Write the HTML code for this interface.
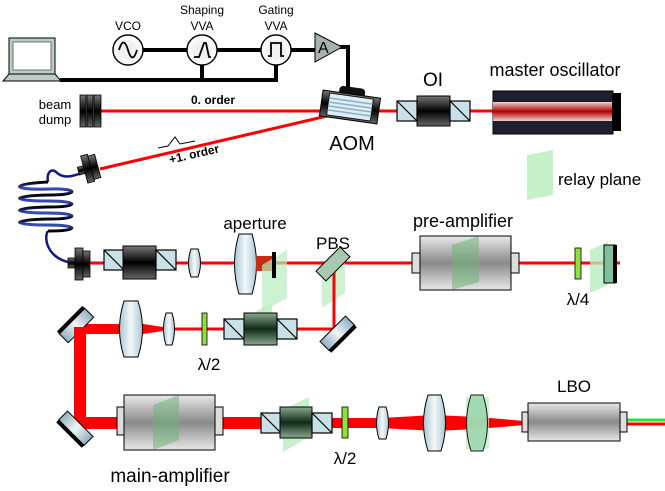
<!DOCTYPE html>
<html><head><meta charset="utf-8"><style>
html,body{margin:0;padding:0;background:#fff}
svg{display:block;font-family:"Liberation Sans",sans-serif}
</style></head><body>
<svg width="665" height="491" viewBox="0 0 665 491" xmlns="http://www.w3.org/2000/svg">
<defs>
<linearGradient id="blk" x1="0" y1="0" x2="0" y2="1"><stop offset="0" stop-color="#777"/><stop offset="0.5" stop-color="#000"/><stop offset="1" stop-color="#666"/></linearGradient>
<linearGradient id="grn" x1="0" y1="0" x2="0" y2="1"><stop offset="0" stop-color="#8aa890"/><stop offset="0.5" stop-color="#0e2a18"/><stop offset="1" stop-color="#8aa890"/></linearGradient>
<linearGradient id="gry" x1="0" y1="0" x2="0" y2="1"><stop offset="0" stop-color="#e8e8e8"/><stop offset="0.5" stop-color="#8a8a8a"/><stop offset="1" stop-color="#e8e8e8"/></linearGradient>
<linearGradient id="lens" x1="0" y1="0" x2="1" y2="0"><stop offset="0" stop-color="#a9c6d4"/><stop offset="0.5" stop-color="#f4f8fa"/><stop offset="1" stop-color="#a9c6d4"/></linearGradient>
<linearGradient id="mir" x1="0" y1="0" x2="1" y2="0"><stop offset="0" stop-color="#8fb0bf"/><stop offset="0.5" stop-color="#eef4f6"/><stop offset="1" stop-color="#8fb0bf"/></linearGradient>
<linearGradient id="red" x1="0" y1="0" x2="0" y2="1"><stop offset="0" stop-color="#f2d0d0"/><stop offset="0.5" stop-color="#b00000"/><stop offset="1" stop-color="#f2d0d0"/></linearGradient>
<linearGradient id="fib" x1="0" y1="0" x2="0" y2="1"><stop offset="0" stop-color="#000"/><stop offset="0.5" stop-color="#3a50c8"/><stop offset="1" stop-color="#000"/></linearGradient>
<g id="prism"><rect x="0" y="0" width="20" height="20" fill="#c9e0e8" stroke="#000" stroke-width="1.2"/><line x1="0" y1="0" x2="20" y2="20" stroke="#000" stroke-width="1.2"/></g>
</defs>

<!-- computer -->
<rect x="9" y="38" width="46" height="36" fill="#bccdc4" stroke="#000" stroke-width="1"/>
<rect x="13" y="42" width="38" height="28" fill="#fff" stroke="#555" stroke-width="0.8"/>
<path d="M9 74 L55 74 L61 81 L3 81 Z" fill="#bccdc4" stroke="#000" stroke-width="1"/>

<!-- electronics lines -->
<g stroke="#000" stroke-width="4" fill="none">
<line x1="143" y1="50" x2="318" y2="50"/>
<line x1="60" y1="80" x2="278" y2="80"/>
<line x1="202" y1="64" x2="202" y2="80"/>
<line x1="276" y1="64" x2="276" y2="80"/>
<polyline points="340,47 348,47 348,90"/>
</g>
<g stroke="#000" stroke-width="1.5" fill="#f0f0f0">
<circle cx="128" cy="50" r="15"/><circle cx="202" cy="50" r="15"/><circle cx="276" cy="50" r="15"/>
</g>
<g stroke="#fff" stroke-width="4.5" fill="none" opacity="0.6"><circle cx="128" cy="50" r="12"/><circle cx="202" cy="50" r="12"/><circle cx="276" cy="50" r="12"/></g>
<g stroke="#000" stroke-width="1.8" fill="none">
<path d="M119 50 C122 40,125 40,128 50 C131 60,134 60,137 50"/>
<polyline points="194,57 199,57 204,43 206,43 209,57 211,57"/>
<polyline points="268,56 271,56 271,43 281,43 281,56 284,56"/>
</g>
<path d="M315 33 L342 47 L315 62 Z" fill="#a8b0b0" stroke="#000" stroke-width="1"/>
<text x="318" y="53" font-size="16" fill="#000">A</text>
<g font-size="12" fill="#000" text-anchor="middle">
<text x="128" y="30">VCO</text>
<text x="202" y="14">Shaping</text><text x="202" y="30">VVA</text>
<text x="276" y="14">Gating</text><text x="276" y="30">VVA</text>
</g>

<!-- beams top -->
<line x1="100" y1="111" x2="495" y2="111" stroke="#f00" stroke-width="3"/>
<line x1="100" y1="169" x2="340" y2="113" stroke="#f00" stroke-width="3"/>
<polyline points="158,148 168,146 175,137 180,144 195,141" fill="none" stroke="#000" stroke-width="1"/>
<text x="213" y="104" font-size="12" font-weight="bold" text-anchor="middle">0. order</text>
<text x="195" y="158" font-size="12" font-weight="bold" text-anchor="middle" transform="rotate(-13 195 158)">+1. order</text>

<!-- beam dump -->
<g fill="url(#blk)" stroke="#000" stroke-width="0.8">
<rect x="80" y="95" width="6" height="32"/><rect x="87" y="95" width="6" height="32"/><rect x="94" y="95" width="7" height="32"/>
</g>
<text x="55" y="109" font-size="13" text-anchor="middle">beam</text>
<text x="55" y="124" font-size="13" text-anchor="middle">dump</text>

<!-- AOM -->
<g transform="rotate(8 350 107)">
<rect x="337" y="87" width="26" height="10" rx="4" fill="#111"/>
<rect x="321" y="94" width="58" height="26" fill="url(#blk)" stroke="#000"/>
<rect x="328" y="96" width="44" height="22" fill="#dfeef4" stroke="#000" stroke-width="0.8"/>
<g stroke="#8ab0c8" stroke-width="1.5"><line x1="328" y1="101" x2="372" y2="101"/><line x1="328" y1="105" x2="372" y2="105"/><line x1="328" y1="109" x2="372" y2="109"/><line x1="328" y1="113" x2="372" y2="113"/></g>
</g>
<text x="352" y="150" font-size="20" text-anchor="middle">AOM</text>

<!-- OI top -->
<use href="#prism" x="397" y="101"/>
<rect x="417" y="96" width="33" height="30" fill="url(#blk)" stroke="#000"/>
<g transform="translate(450 101)"><use href="#prism"/></g>
<text x="433" y="86" font-size="19" text-anchor="middle">OI</text>

<!-- master oscillator -->
<rect x="493" y="91" width="120" height="43" fill="#1e1f30" stroke="#000"/>
<rect x="493" y="102" width="120" height="19" fill="url(#red)"/>
<rect x="612" y="93" width="9" height="38" fill="#000"/>
<text x="555" y="76" font-size="18" text-anchor="middle">master oscillator</text>

<!-- relay plane legend -->
<path d="M527 155 L553 150 L553 195 L527 200 Z" fill="#c6f0c8"/>
<text x="558" y="185" font-size="17">relay plane</text>

<!-- fiber -->
<path d="M48 182 C46 172,52 168,56 172 C62 178,70 178,84 172" fill="none" stroke="#10188a" stroke-width="2.5"/>
<g fill="none" stroke="url(#fib)" stroke-width="3">
<path d="M48 182 C10 184,10 190,48 189 C80 188,80 195,48 195"/>
<path d="M48 195 C10 196,10 201,48 201 C80 201,80 207,48 207"/>
<path d="M48 207 C10 208,10 213,48 213 C80 213,80 219,48 219"/>
<path d="M48 219 C10 220,10 225,48 225 C80 225,80 231,48 231"/>
</g>
<path d="M48 231 C44 236,45 258,72 263" fill="none" stroke="#10188a" stroke-width="2.5"/>
<g transform="rotate(-15 90 168)" fill="url(#blk)" stroke="#000" stroke-width="0.8">
<rect x="78" y="164" width="6" height="8"/><rect x="84" y="154" width="7" height="28"/><rect x="91" y="156" width="7" height="24"/>
</g>

<!-- lower row 1 -->
<line x1="88" y1="263" x2="620" y2="263" stroke="#f00" stroke-width="3"/>
<g fill="url(#blk)" stroke="#000" stroke-width="0.8">
<rect x="68" y="258" width="7" height="10"/><rect x="75" y="248" width="8" height="32"/><rect x="83" y="251" width="7" height="26"/>
</g>
<use href="#prism" x="104" y="250"/>
<rect x="123" y="246" width="33" height="33" fill="url(#blk)" stroke="#000"/>
<use href="#prism" x="156" y="250"/>
<path d="M191 249 L198 249 Q203 263 198 277 L191 277 Q186 263 191 249 Z" fill="url(#lens)" stroke="#000"/>
<path d="M239 234 L252 234 Q261 264 252 294 L239 294 Q230 264 239 234 Z" fill="url(#lens)" stroke="#000"/>
<rect x="256" y="256" width="18" height="15" fill="#c62c10"/>
<path d="M262 265 L287 250 L287 298 L262 312 Z" fill="#b8ecbe" opacity="0.7"/>
<rect x="272" y="252" width="4" height="26" fill="#000"/>
<text x="255" y="229" font-size="17" text-anchor="middle">aperture</text>
<path d="M322 268 L345 253 L345 293 L322 308 Z" fill="#b8ecbe" opacity="0.7"/>
<line x1="334" y1="263" x2="334" y2="329" stroke="#f00" stroke-width="3"/>
<g transform="rotate(-45 333 264)"><rect x="316" y="257" width="34" height="14" fill="#a8c8b0" stroke="#000"/></g>
<text x="333" y="249" font-size="17" text-anchor="middle">PBS</text>
<rect x="412" y="253" width="9" height="20" fill="#ddd" stroke="#000"/>
<rect x="511" y="253" width="8" height="20" fill="#ddd" stroke="#000"/>
<rect x="420" y="236" width="91" height="54" fill="url(#gry)" stroke="#000"/>
<path d="M452 245 L479 236 L479 282 L452 290 Z" fill="#6fb47a" opacity="0.55"/>
<text x="463" y="227" font-size="18" text-anchor="middle">pre-amplifier</text>
<rect x="575" y="248" width="6" height="31" fill="#8ee03c" stroke="#000" stroke-width="0.8"/>
<path d="M590 250 L608 242 L608 285 L590 293 Z" fill="#b8ecbe" opacity="0.8"/>
<rect x="604" y="245" width="11" height="38" fill="#7fbf9a" stroke="#000"/>
<rect x="613" y="245" width="4" height="38" fill="#000"/>
<text x="578" y="305" font-size="17" text-anchor="middle">λ/4</text>

<!-- row 2 -->
<line x1="218" y1="329" x2="335" y2="329" stroke="#f00" stroke-width="3"/>
<path d="M143 324 L170 328 L170 330 L143 334 Z" fill="#f00"/>
<rect x="78" y="324" width="66" height="10" fill="#f00"/>
<line x1="170" y1="329" x2="220" y2="329" stroke="#f00" stroke-width="3"/>
<g transform="rotate(-45 76 325)"><rect x="58" y="319" width="36" height="13" fill="url(#mir)" stroke="#000"/><rect x="58" y="316" width="36" height="4" fill="#000"/></g>
<path d="M124 301 L138 301 Q147 329 138 357 L124 357 Q115 329 124 301 Z" fill="url(#lens)" stroke="#000"/>
<path d="M166 313 L172 313 Q177 329 172 345 L166 345 Q161 329 166 313 Z" fill="url(#lens)" stroke="#000"/>
<rect x="202" y="313" width="5" height="32" fill="#8ee03c" stroke="#000" stroke-width="0.8"/>
<text x="209" y="370" font-size="17" text-anchor="middle">λ/2</text>
<path d="M247 345 L272 330 L272 303 L247 316 Z" fill="#b8ecbe" opacity="0.8"/>
<use href="#prism" x="224" y="319"/>
<rect x="244" y="313" width="33" height="32" fill="url(#grn)" stroke="#000"/>
<use href="#prism" x="277" y="319"/>
<g transform="rotate(-45 337 333)"><rect x="319" y="327" width="36" height="13" fill="url(#mir)" stroke="#000"/><rect x="319" y="339" width="36" height="4" fill="#000"/></g>

<!-- row 3 -->
<rect x="74" y="327" width="12" height="96" fill="#f00"/>
<rect x="74" y="417" width="190" height="12" fill="#f00"/>
<g transform="rotate(45 76 428)"><rect x="58" y="422" width="36" height="13" fill="url(#mir)" stroke="#000"/><rect x="58" y="434" width="36" height="4" fill="#000"/></g>
<rect x="117" y="407" width="8" height="28" fill="#ddd" stroke="#000"/>
<rect x="215" y="407" width="8" height="28" fill="#ddd" stroke="#000"/>
<rect x="124" y="395" width="91" height="55" fill="url(#gry)" stroke="#000"/>
<path d="M153 405 L179 395 L179 440 L153 450 Z" fill="#6fb47a" opacity="0.55"/>
<text x="170" y="482" font-size="19" text-anchor="middle">main-amplifier</text>
<rect x="330" y="418" width="52" height="10" fill="#f00"/>
<path d="M382 418 L434 415 L434 431 L382 428 Z" fill="#f00"/>
<path d="M434 415 L477 417 L525 421 L525 425 L477 429 L434 431 Z" fill="#f00"/>
<path d="M283 452 L309 437 L309 397 L283 410 Z" fill="#b8ecbe" opacity="0.8"/>
<use href="#prism" x="261" y="413"/>
<rect x="280" y="407" width="32" height="31" fill="url(#grn)" stroke="#000"/>
<use href="#prism" x="312" y="413"/>
<rect x="342" y="407" width="6" height="31" fill="#8ee03c" stroke="#000" stroke-width="0.8"/>
<text x="345" y="464" font-size="17" text-anchor="middle">λ/2</text>
<path d="M379 407 L386 407 Q391 423 386 439 L379 439 Q374 423 379 407 Z" fill="url(#lens)" stroke="#000"/>
<path d="M428 395 L441 395 Q450 423 441 451 L428 451 Q419 423 428 395 Z" fill="url(#lens)" stroke="#000"/>
<path d="M466 397 L489 397 L489 449 L466 449 Z" fill="#b8ecbe" opacity="0.7"/>
<path d="M471 395 L483 395 Q492 423 483 451 L471 451 Q462 423 471 395 Z" fill="#9fd8b0" stroke="#000" opacity="0.9"/>
<line x1="627" y1="420" x2="665" y2="420" stroke="#2ee02e" stroke-width="3"/>
<line x1="627" y1="424" x2="665" y2="424" stroke="#f00" stroke-width="3"/>
<rect x="522" y="412" width="7" height="20" fill="#ddd" stroke="#000"/>
<rect x="620" y="412" width="7" height="20" fill="#ddd" stroke="#000"/>
<rect x="528" y="403" width="92" height="38" fill="url(#gry)" stroke="#000"/>
<text x="574" y="392" font-size="17" text-anchor="middle">LBO</text>
</svg>
</body></html>
